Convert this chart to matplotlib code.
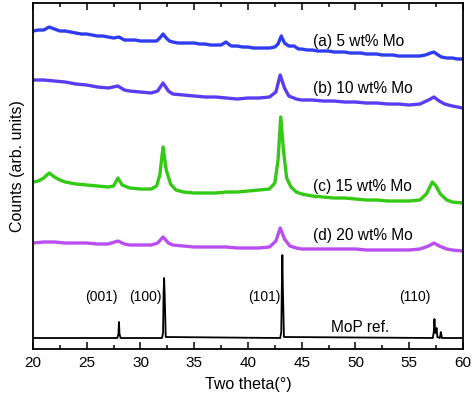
import matplotlib.pyplot as plt
from matplotlib.ticker import MultipleLocator

plt.rcParams['font.family'] = ['Liberation Sans', 'DejaVu Sans']

# (a) 5 wt% Mo
x_a = [20, 20.5, 21, 21.5, 22, 22.5, 23, 23.5, 24, 24.5, 25, 25.5, 26, 26.5, 27, 27.5, 28, 28.5,
       29, 29.5, 30, 30.5, 31, 31.5, 31.8, 32.1, 32.4, 32.7, 33, 33.5, 34, 34.5, 35, 35.5, 36, 36.5,
       37, 37.5, 37.95, 38.3, 38.5, 39, 39.5, 40, 40.5, 41, 41.5, 42, 42.5, 42.8, 43.1, 43.4, 43.8,
       44.3, 44.7, 45, 45.5, 46, 46.5, 47, 47.5, 48, 48.5, 49, 49.5, 50, 50.5, 51, 51.5, 52, 52.5,
       53, 53.5, 54, 54.5, 55, 55.5, 56, 56.5, 57, 57.3, 57.7, 58, 58.5, 59, 59.5, 60]
y_a = [318, 319, 319, 322, 320, 318, 318, 317, 316, 315, 315, 314, 313, 313, 312, 311, 312, 309,
       309, 309, 308, 308, 308, 308, 311, 315, 311, 308, 307, 306, 306, 306, 306, 305, 305, 304,
       304, 304, 307, 304, 303, 303, 302, 302, 301, 301, 301, 301, 302, 305, 313, 306, 303,
       303, 300, 300, 299, 299, 298, 298, 298, 297, 297, 297, 296, 296, 296, 295, 295, 295, 294,
       294, 294, 293, 293, 293, 293, 293, 294, 296, 297, 294, 292, 291, 291, 290, 290]

# (b) 10 wt% Mo
x_b = [20, 21, 22, 23, 24, 25, 26, 27, 27.9, 28.5, 29, 30, 31, 31.6, 32.1, 32.6, 33, 34, 35, 36,
       37, 38, 39, 40, 41, 42, 42.6, 43.0, 43.4, 43.8, 44.5, 45, 46, 47, 48, 49, 50, 51, 52, 53,
       54, 55, 56, 56.8, 57.3, 57.8, 58.3, 59, 60]
y_b = [269, 269, 268, 267, 265, 264, 262, 261, 263, 259, 258, 257, 256, 258, 266, 258, 255, 254, 253, 252,
       252, 251, 250, 251, 251, 252, 257, 274, 261, 253, 250, 249, 249, 248, 248, 247, 247, 246, 246, 245,
       245, 244, 245, 249, 252, 248, 245, 243, 241]

# (c) 15 wt% Mo
x_c = [20, 20.5, 21, 21.5, 22, 22.5, 23, 24, 25, 26, 27, 27.5, 27.9, 28.3, 29, 30, 31, 31.5, 31.8,
       32.1, 32.4, 32.8, 33.3, 34, 35, 36, 37, 38, 39, 40, 41, 42, 42.5, 42.8, 43.05, 43.3, 43.6,
       44, 44.5, 45, 46, 47, 48, 49, 50, 51, 52, 53, 54, 55, 56, 56.6, 57.15, 57.5, 57.9, 58.5, 59, 60]
y_c = [167, 168, 171, 176, 172, 169, 167, 165, 164, 163, 162, 163, 171, 164, 161, 160, 160, 163, 174,
       202, 179, 165, 159, 157, 156, 156, 156, 157, 157, 158, 159, 160, 166, 189, 232, 199, 171,
       162, 157, 155, 153, 152, 151, 151, 150, 149, 149, 148, 148, 148, 149, 155, 167, 163, 155, 149, 147, 146]

# (d) 20 wt% Mo
x_d = [20, 21, 22, 23, 24, 25, 26, 27, 27.9, 28.5, 29, 30, 31, 31.6, 32.1, 32.6, 33, 34, 35, 36,
       37, 38, 39, 40, 41, 42, 42.6, 43.0, 43.4, 43.9, 44.5, 45, 46, 47, 48, 49, 50, 51, 52, 53,
       54, 55, 56, 56.8, 57.3, 57.8, 58.5, 59, 60]
y_d = [106, 107, 107, 106, 106, 106, 105, 105, 108, 105, 104, 104, 104, 106, 112, 106, 104, 103, 102, 102,
       102, 102, 101, 101, 101, 102, 108, 121, 110, 103, 101, 100, 100, 100, 100, 100, 100, 99, 99, 99,
       99, 99, 100, 103, 106, 103, 100, 99, 98]

# MoP reference pattern
x_ref = [20, 27.85, 27.95, 28.0, 28.05, 28.15, 32.0, 32.1, 32.15, 32.2, 32.25, 32.35, 43.0, 43.1,
         43.15, 43.2, 43.25, 43.35, 57.2, 57.3, 57.35, 57.42, 57.5, 57.55, 57.62, 57.85, 57.95, 58.05, 60]
y_ref = [11, 11, 15, 27, 15, 11, 11, 16, 56, 71, 56, 12, 11, 17,
         60, 94, 60, 12, 11, 18, 30, 16, 18, 21, 12, 11, 17, 11, 11]

labels = ['(a) 5 wt% Mo', '(b) 10 wt% Mo', '(c) 15 wt% Mo', '(d) 20 wt% Mo']
label_y = [308, 261, 163, 114]
colors = ['#2f3cf0', '#5b3cf2', '#33c914', '#b94ff0']
hkl = ['(001)', '(100)', '(101)', '(110)']
hkl_x = [26.4, 30.5, 41.5, 55.5]

fig = plt.figure(figsize=(4.74, 3.97), dpi=100)
ax = fig.add_axes([0.0696, 0.1209, 0.907, 0.8715])

series = [(x_a, y_a), (x_b, y_b), (x_c, y_c), (x_d, y_d)]
for (xs, ys), c in zip(series, colors):
    ax.plot(xs, ys, color=c, lw=2.4, solid_joinstyle='round')
ax.plot(x_ref, y_ref, color='black', lw=1.3)

for lab, ly in zip(labels, label_y):
    ax.text(46.05, ly, lab, fontsize=11.2, va='center', ha='left')
ax.text(47.7, 22, 'MoP ref.', fontsize=11.2, va='center', ha='left')
for h, hx in zip(hkl, hkl_x):
    ax.text(hx, 52, h, fontsize=10, va='center', ha='center')

ax.set_xlim(20, 60)
ax.set_ylim(0, 346)
ax.xaxis.set_major_locator(MultipleLocator(5))
ax.xaxis.set_minor_locator(MultipleLocator(2.5))
ax.tick_params(axis='x', which='both', direction='in', top=True, labelsize=11, width=1.1, pad=5)
ax.tick_params(axis='x', which='major', length=5)
ax.tick_params(axis='x', which='minor', length=3)
ax.set_yticks([])
for s in ax.spines.values():
    s.set_linewidth(1.3)

ax.set_xlabel('Two theta(°)', fontsize=11.5, labelpad=5)
ax.set_ylabel('Counts (arb. units)', fontsize=11.5)
ax.yaxis.set_label_coords(-0.019, 0.53)

fig.savefig('out.png', dpi=100)
